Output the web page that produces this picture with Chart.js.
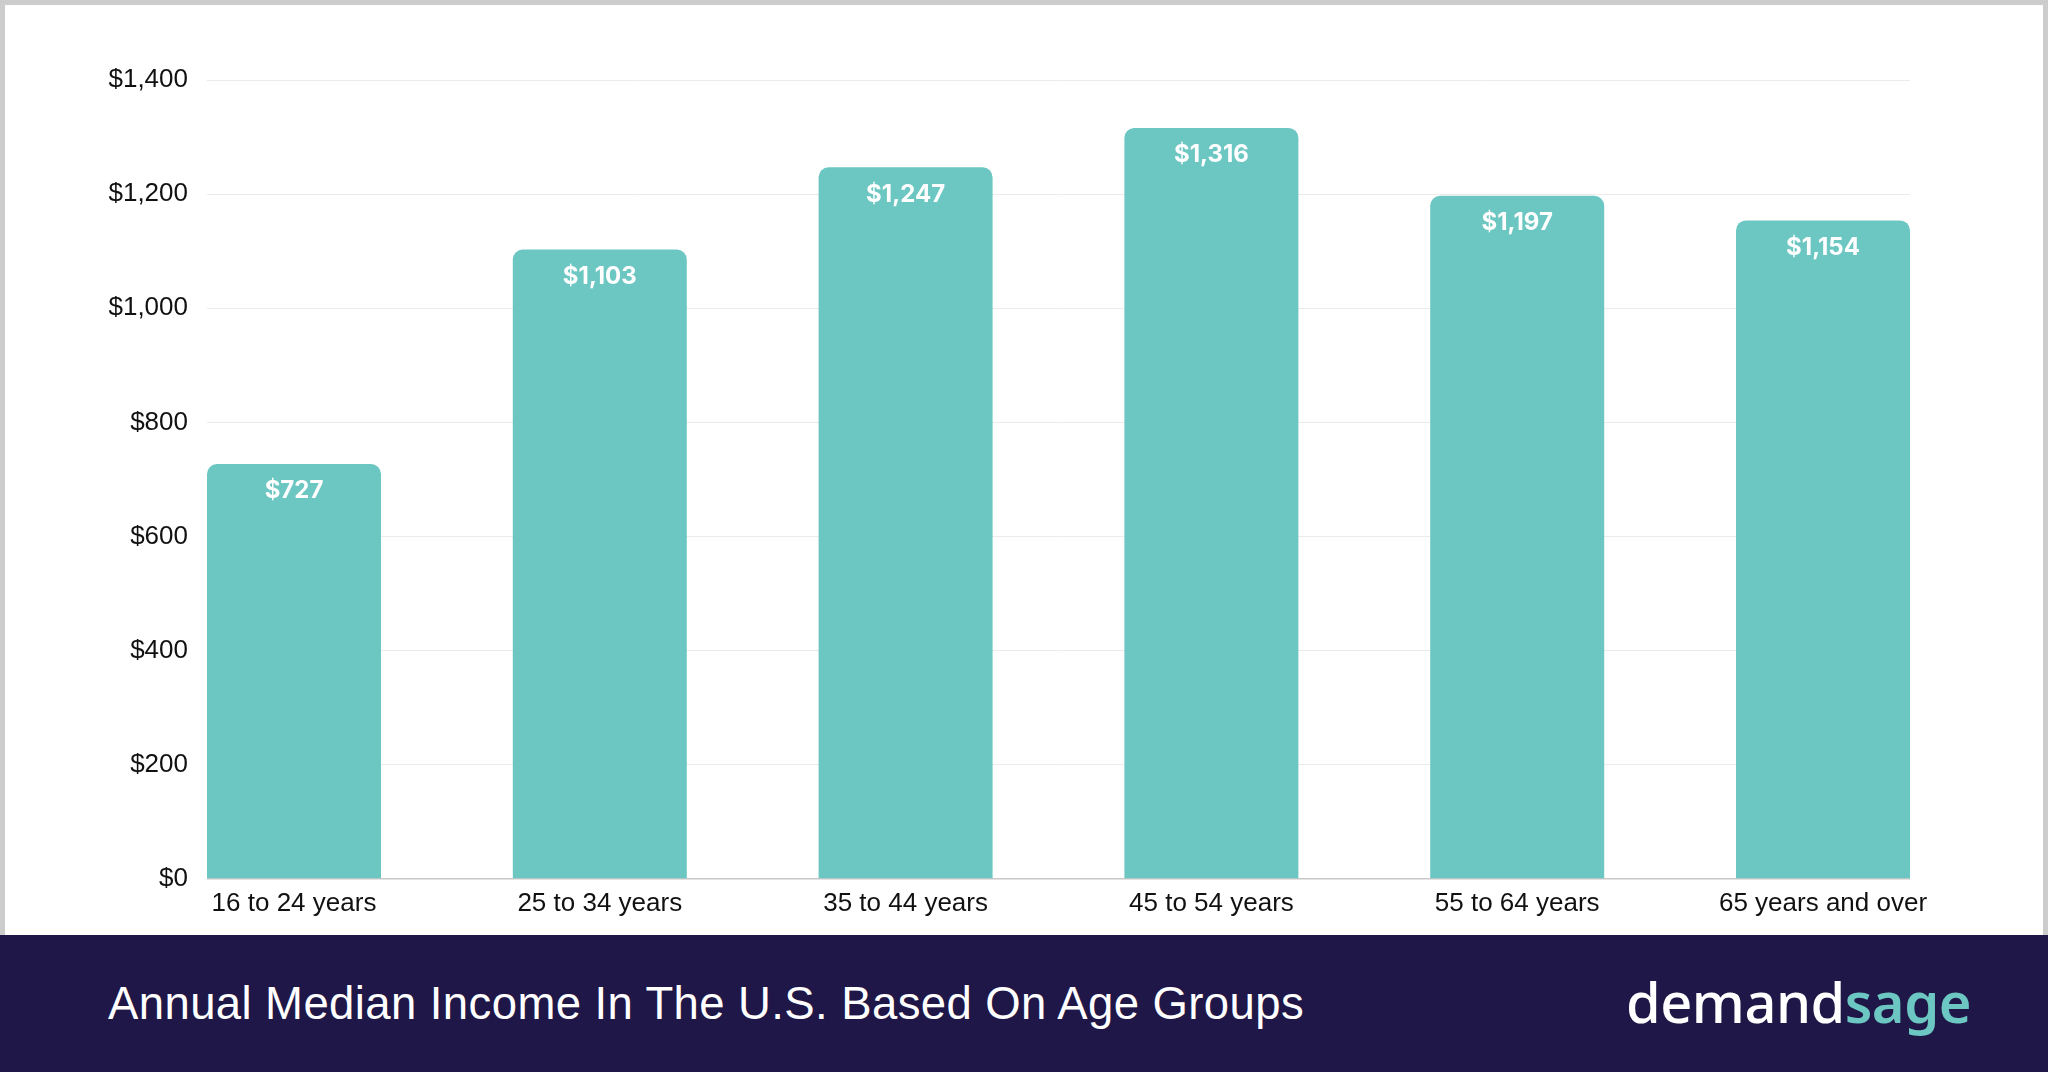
<!DOCTYPE html>
<html>
<head>
<meta charset="utf-8">
<script src="https://cdn.jsdelivr.net/npm/chart.js@4"></script>
<style>
  html, body { margin: 0; padding: 0; background: #fff; }
  body { width: 2048px; height: 1072px; position: relative; overflow: hidden; }
  #frame {
    position: absolute; left: 0; top: 0; width: 2048px; height: 935px;
    box-sizing: border-box; border: 5px solid #cccccc; border-bottom: none;
  }
  #chart { position: absolute; left: 0; top: 0; }
  #footer {
    position: absolute; left: 0; top: 935px; width: 2048px; height: 137px;
    background: #1f1747;
  }
  #title {
    position: absolute; left: 108px; top: 0; line-height: 137px;
    font-family: "Liberation Sans", Arial, sans-serif; font-size: 45.5px;
    color: #ffffff; white-space: nowrap; letter-spacing: 0.4px;
  }
  #logo {
    position: absolute; left: 1626px; top: 28px;
    font-family: "Noto Sans", sans-serif; font-weight: 500; font-size: 56px;
    color: #ffffff; white-space: nowrap; letter-spacing: -0.5px;
  }
  #logo span { color: #6cc7c2; font-weight: 600; }
</style>
</head>
<body>
<div id="frame"></div>
<canvas id="chart" width="2048" height="935"></canvas>
<div id="footer">
  <div id="title">Annual Median Income In The U.S. Based On Age Groups</div>
  <div id="logo">demand<span>sage</span></div>
</div>
<script>
// data
const categories = ['16 to 24 years', '25 to 34 years', '35 to 44 years', '45 to 54 years', '55 to 64 years', '65 years and over'];
const incomes = [727, 1103, 1247, 1316, 1197, 1154];
const yTicks = [0, 200, 400, 600, 800, 1000, 1200, 1400];

const money = (v) => '$' + v.toLocaleString('en-US');

// white value labels inside the top of each bar
const valueLabels = {
    id: 'valueLabels',
    afterDatasetsDraw(chart) {
        const ctx = chart.ctx;
        const meta = chart.getDatasetMeta(0);
        ctx.save();
        ctx.fillStyle = '#ffffff';
        ctx.font = '700 24px Inter, sans-serif';
        ctx.textAlign = 'center';
        ctx.textBaseline = 'middle';
        meta.data.forEach((bar, i) => {
            ctx.fillText(money(incomes[i]), bar.x, bar.y + 27);
        });
        ctx.restore();
    }
};

window.onload = () => {
    const ctx = document.getElementById('chart').getContext('2d');
    new Chart(ctx, {
        type: 'bar',
        data: {
            datasets: [{
                data: incomes.map((v, i) => ({ x: i, y: v })),
                backgroundColor: '#6cc7c2',
                borderRadius: { topLeft: 10, topRight: 10, bottomLeft: 0, bottomRight: 0 },
                borderSkipped: false,
                categoryPercentage: 1,
                barPercentage: 0.569
            }]
        },
        options: {
            responsive: false,
            animation: false,
            events: [],
            layout: { padding: { left: 87, right: 138, top: 80, bottom: 16 } },
            plugins: { legend: { display: false }, tooltip: { enabled: false } },
            scales: {
                x: {
                    type: 'linear',
                    offset: false,
                    min: -0.2845,
                    max: 5.2845,
                    afterBuildTicks: (s) => { s.ticks = categories.map((c, i) => ({ value: i })); },
                    afterFit: (s) => { s.height = 40; },
                    grid: { display: false, offset: false },
                    border: { display: false },
                    ticks: {
                        padding: 1,
                        maxRotation: 0,
                        autoSkip: false,
                        color: '#111111',
                        font: { family: '"Liberation Sans", Arial, sans-serif', size: 26 },
                        callback: (v) => categories[v]
                    }
                },
                y: {
                    min: 0,
                    max: 1400,
                    afterBuildTicks: (s) => { s.ticks = yTicks.map(v => ({ value: v })); },
                    afterFit: (s) => { s.width = 120; },
                    border: { display: false },
                    grid: {
                        drawTicks: false,
                        color: (c) => c.tick && c.tick.value === 0 ? '#c8c8c8' : '#ebebeb',
                        lineWidth: (c) => c.tick && c.tick.value === 0 ? 1.5 : 1
                    },
                    ticks: {
                        padding: 19,
                        color: '#111111',
                        font: { family: '"Liberation Sans", Arial, sans-serif', size: 26 },
                        callback: (v) => money(v)
                    }
                }
            }
        },
        plugins: [valueLabels]
    });
};
</script>
</body>
</html>
